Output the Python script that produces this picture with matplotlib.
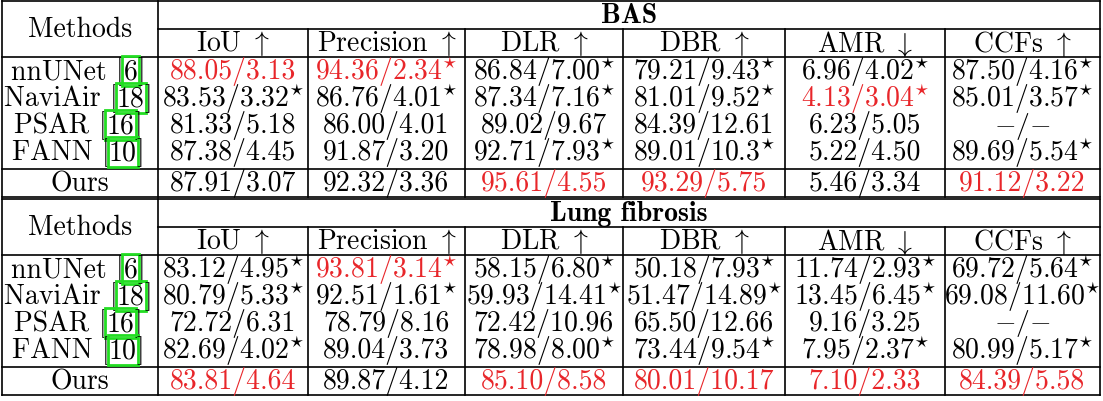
import matplotlib
matplotlib.use("Agg")
import matplotlib.pyplot as plt

plt.rcParams['mathtext.fontset'] = 'cm'
plt.rcParams['axes.unicode_minus'] = False

metrics = ["IoU $\\uparrow$", "Precision $\\uparrow$", "DLR $\\uparrow$", "DBR $\\uparrow$", "AMR $\\downarrow$", "CCFs $\\uparrow$"]
methods = ["nnUNet", "NaviAir", "PSAR", "FANN", "Ours"]
cites = ["6", "18", "16", "10", None]
datasets = ["BAS", "Lung fibrosis"]

bas_vals = [
    ["88.05/3.13", "94.36/2.34*", "86.84/7.00*", "79.21/9.43*", "6.96/4.02*", "87.50/4.16*"],
    ["83.53/3.32*", "86.76/4.01*", "87.34/7.16*", "81.01/9.52*", "4.13/3.04*", "85.01/3.57*"],
    ["81.33/5.18", "86.00/4.01", "89.02/9.67", "84.39/12.61", "6.23/5.05", "-/-"],
    ["87.38/4.45", "91.87/3.20", "92.71/7.93*", "89.01/10.3*", "5.22/4.50", "89.69/5.54*"],
    ["87.91/3.07", "92.32/3.36", "95.61/4.55", "93.29/5.75", "5.46/3.34", "91.12/3.22"],
]
bas_red = [[1,1,0,0,0,0],[0,0,0,0,1,0],[0]*6,[0]*6,[0,0,1,1,0,1]]
lung_vals = [
    ["83.12/4.95*", "93.81/3.14*", "58.15/6.80*", "50.18/7.93*", "11.74/2.93*", "69.72/5.64*"],
    ["80.79/5.33*", "92.51/1.61*", "59.93/14.41*", "51.47/14.89*", "13.45/6.45*", "69.08/11.60*"],
    ["72.72/6.31", "78.79/8.16", "72.42/10.96", "65.50/12.66", "9.16/3.25", "-/-"],
    ["82.69/4.02*", "89.04/3.73", "78.98/8.00*", "73.44/9.54*", "7.95/2.37*", "80.99/5.17*"],
    ["83.81/4.64", "89.87/4.12", "85.10/8.58", "80.01/10.17", "7.10/2.33", "84.39/5.58"],
]
lung_red = [[0,1,0,0,0,0],[0]*6,[0]*6,[0]*6,[1,0,1,1,1,1]]

W, H = 1103, 402
fig = plt.figure(figsize=(W/100, H/100), dpi=100)
ax = fig.add_axes([0, 0, 1, 1])
ax.set_xlim(0, W); ax.set_ylim(H, 0); ax.axis('off')
fig.canvas.draw()
rend = fig.canvas.get_renderer()

xcols = [2, 158, 308, 465, 623, 785, 945, 1100]
RED = '#e8262a'
FS = 20
lw = 1.2

def fmt(s):
    star = s.endswith('*')
    s = s.rstrip('*')
    if s == '-/-':
        return '${-}/{-}$'
    return s + ('$^{\\star}$' if star else '')

def width(t):
    return t.get_window_extent(renderer=rend).width

def block(y0, name, vals, red):
    ysub = y0 + 28; yh = y0 + 56; yo = y0 + 168; yb = y0 + 196
    for y in [y0, yh, yo, yb]:
        ax.plot([xcols[0], xcols[-1]], [y, y], color='k', lw=lw)
    ax.plot([xcols[1], xcols[-1]], [ysub, ysub], color='k', lw=lw)
    for i, x in enumerate(xcols):
        if i in (0, 1, 7):
            ax.plot([x, x], [y0, yb], color='k', lw=lw)
        else:
            ax.plot([x, x], [ysub, yb], color='k', lw=lw)
    ax.text((xcols[0]+xcols[1])/2, (y0+yh)/2, "Methods", ha='center', va='center', family='cmr10', fontsize=FS)
    ax.text((xcols[1]+xcols[-1])/2, y0+14, name, ha='center', va='center', family='cmb10', fontsize=FS)
    for j, m in enumerate(metrics):
        ax.text((xcols[j+1]+xcols[j+2])/2, (ysub+yh)/2, m, ha='center', va='center', family='cmr10', fontsize=FS)
    rows_y = [y0+70, y0+97, y0+124, y0+151, (yo+yb)/2]
    for i, meth in enumerate(methods):
        cy = rows_y[i]
        xc = (xcols[0]+xcols[1])/2
        if cites[i] is None:
            ax.text(xc, cy, meth, ha='center', va='center', family='cmr10', fontsize=FS)
        else:
            parts = [meth + " ", "[", cites[i], "]"]
            ts = [ax.text(0, cy, p, ha='left', va='center', family='cmr10', fontsize=FS) for p in parts]
            ws = [width(t) for t in ts]
            x = xc - sum(ws)/2 - 2
            for t, w in zip(ts, ws):
                t.set_x(x)
                x += w
            ts[2].set_bbox(dict(boxstyle='square,pad=0.05', fc='none', ec='#22dd22', lw=2))
        for j in range(6):
            ax.text((xcols[j+1]+xcols[j+2])/2, cy, fmt(vals[i][j]), ha='center', va='center',
                    family='cmr10', fontsize=FS, color=RED if red[i][j] else 'k')

block(2, datasets[0], bas_vals, bas_red)
block(200, datasets[1], lung_vals, lung_red)
fig.savefig("out.png", dpi=100)
